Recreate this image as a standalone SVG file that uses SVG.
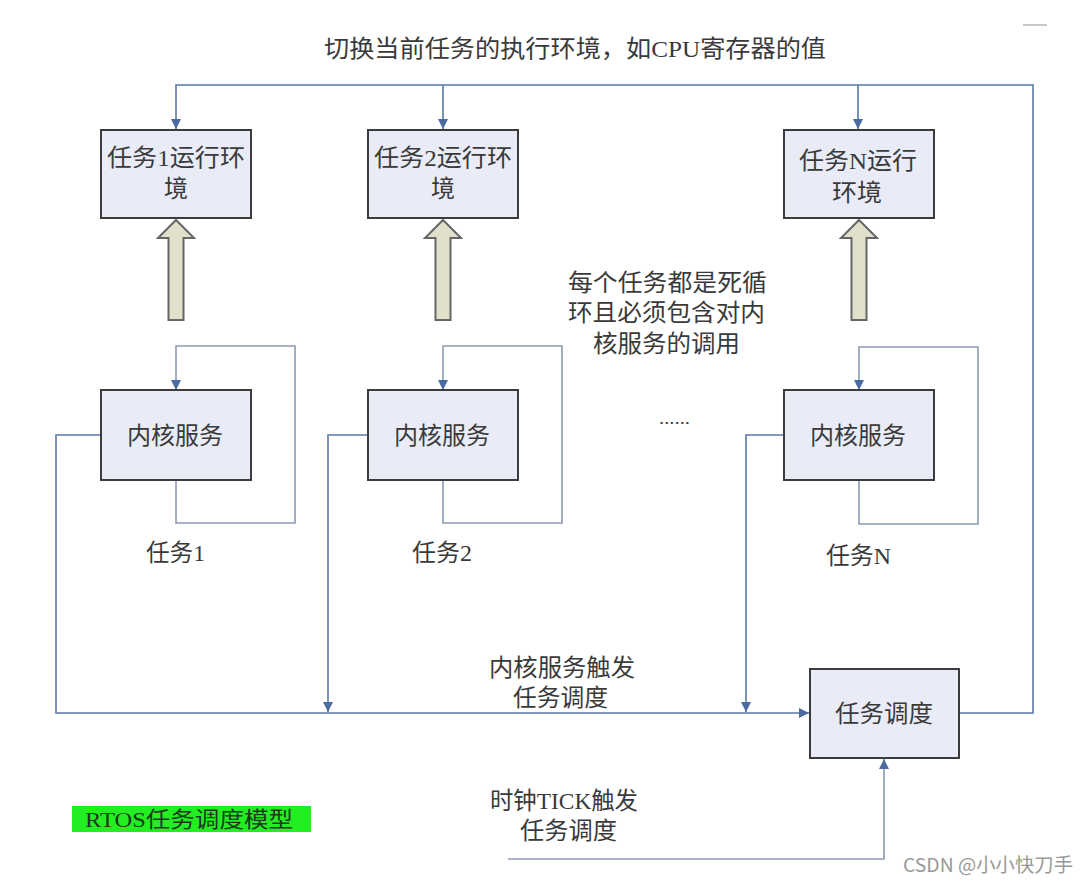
<svg xmlns="http://www.w3.org/2000/svg" width="1089" height="884" viewBox="0 0 1089 884">
<style>
.t{font-family:"Liberation Serif","Noto Sans CJK SC",serif;font-size:24px;fill:#3a3a3a;}
.box{fill:#e9ecf7;stroke:#3c3c3c;stroke-width:2;}
.ln{fill:none;stroke:#5a78a8;stroke-width:1.6;}
.lp{fill:none;stroke:#8e9bb2;stroke-width:1.6;}
.blk{fill:#e1e1cb;stroke:#666;stroke-width:2;stroke-linejoin:miter;}
</style>
<defs>
<marker id="ah" viewBox="0 0 10 10" refX="10" refY="5" markerWidth="11" markerHeight="10" markerUnits="userSpaceOnUse" orient="auto">
<path d="M0,0 L10,5 L0,10 z" fill="#4a6aa0"/>
</marker>
</defs>
<rect width="1089" height="884" fill="#ffffff"/>
<line x1="1023" y1="25" x2="1047" y2="25" stroke="#c8c8c8" stroke-width="2"/>

<g id="connectors">
<path class="ln" d="M959,713 H1033 V85 H176 V129" marker-end="url(#ah)"/>
<path class="ln" d="M443,85 V129" marker-end="url(#ah)"/>
<path class="ln" d="M858,85 V129" marker-end="url(#ah)"/>
<path class="lp" d="M176,480 V523 H295 V346 H176 V390" marker-end="url(#ah)"/>
<path class="lp" d="M443,480 V523 H562 V346 H443 V390" marker-end="url(#ah)"/>
<path class="lp" d="M859,480 V524 H978 V347 H859 V390" marker-end="url(#ah)"/>
<path class="ln" d="M101,435 H56 V713 H809" marker-end="url(#ah)"/>
<path class="ln" d="M368,435 H328 V712" marker-end="url(#ah)"/>
<path class="ln" d="M784,435 H746 V712" marker-end="url(#ah)"/>
<path class="lp" d="M508,859 H884 V759" marker-end="url(#ah)"/>
</g>

<g id="arrows-up">
<polygon class="blk" points="176,220 194,238 183.5,238 183.5,320 168.5,320 168.5,238 158,238"/>
<polygon class="blk" points="443,220 461,238 450.5,238 450.5,320 435.5,320 435.5,238 425,238"/>
<polygon class="blk" points="859,220 877,238 866.5,238 866.5,320 851.5,320 851.5,238 841,238"/>
</g>

<text class="t" x="324" y="57" textLength="502" lengthAdjust="spacingAndGlyphs">切换当前任务的执行环境，如CPU寄存器的值</text>

<g id="env1">
<rect class="box" x="101" y="130" width="150" height="88"/>
<text class="t" x="107" y="166" textLength="138" lengthAdjust="spacingAndGlyphs">任务1运行环</text>
<text class="t" x="176" y="197" text-anchor="middle">境</text>
</g>
<g id="env2">
<rect class="box" x="368" y="130" width="150" height="88"/>
<text class="t" x="374" y="166" textLength="138" lengthAdjust="spacingAndGlyphs">任务2运行环</text>
<text class="t" x="443" y="197" text-anchor="middle">境</text>
</g>
<g id="envN">
<rect class="box" x="784" y="130" width="150" height="88"/>
<text class="t" x="799" y="169" textLength="118" lengthAdjust="spacingAndGlyphs">任务N运行</text>
<text class="t" x="832" y="201" textLength="50" lengthAdjust="spacingAndGlyphs">环境</text>
</g>

<g id="kernel1">
<rect class="box" x="101" y="390" width="150" height="90"/>
<text class="t" x="127" y="444" textLength="96" lengthAdjust="spacingAndGlyphs">内核服务</text>
</g>
<g id="kernel2">
<rect class="box" x="368" y="390" width="150" height="90"/>
<text class="t" x="394" y="444" textLength="96" lengthAdjust="spacingAndGlyphs">内核服务</text>
</g>
<g id="kernelN">
<rect class="box" x="784" y="390" width="150" height="90"/>
<text class="t" x="810" y="444" textLength="96" lengthAdjust="spacingAndGlyphs">内核服务</text>
</g>

<text class="t" x="146" y="561" textLength="59" lengthAdjust="spacingAndGlyphs">任务1</text>
<text class="t" x="412" y="561" textLength="60" lengthAdjust="spacingAndGlyphs">任务2</text>
<text class="t" x="826" y="564" textLength="65" lengthAdjust="spacingAndGlyphs">任务N</text>

<text class="t" x="568" y="291" textLength="199" lengthAdjust="spacingAndGlyphs">每个任务都是死循</text>
<text class="t" x="568" y="321" textLength="197" lengthAdjust="spacingAndGlyphs">环且必须包含对内</text>
<text class="t" x="593" y="352" textLength="147" lengthAdjust="spacingAndGlyphs">核服务的调用</text>

<text class="t" x="659" y="424" style="font-size:16px" textLength="31" lengthAdjust="spacingAndGlyphs">......</text>

<text class="t" x="489" y="676" textLength="146" lengthAdjust="spacingAndGlyphs">内核服务触发</text>
<text class="t" x="513" y="706" textLength="95" lengthAdjust="spacingAndGlyphs">任务调度</text>

<text class="t" x="490" y="809" textLength="148" lengthAdjust="spacingAndGlyphs">时钟TICK触发</text>
<text class="t" x="520" y="839" textLength="97" lengthAdjust="spacingAndGlyphs">任务调度</text>

<g id="scheduler">
<rect class="box" x="810" y="669" width="149" height="89"/>
<text class="t" x="835" y="722" textLength="98" lengthAdjust="spacingAndGlyphs">任务调度</text>
</g>

<g id="title-label">
<rect x="72" y="806" width="239" height="26" fill="#22ee22"/>
<text class="t" x="85" y="827" style="font-size:22px;fill:#1e3a1e" textLength="208" lengthAdjust="spacingAndGlyphs">RTOS任务调度模型</text>
</g>

<text x="903" y="872" font-family="'Noto Sans CJK SC','Noto Sans',sans-serif" font-size="19" fill="#999" textLength="170" lengthAdjust="spacingAndGlyphs">CSDN @小小快刀手</text>
</svg>
